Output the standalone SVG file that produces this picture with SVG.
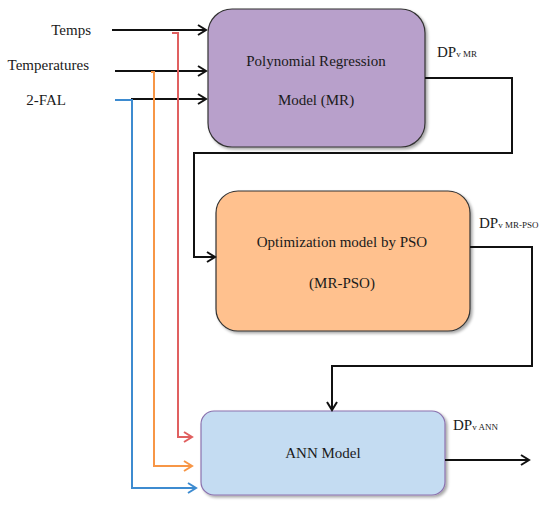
<svg xmlns="http://www.w3.org/2000/svg" width="550" height="507" viewBox="0 0 550 507">
<defs>
<style>
.lbl{text-anchor:middle}
.c{fill:none;stroke-width:2;stroke-linejoin:miter}
.k{stroke:#111}
.r{stroke:#E06060}
.o{stroke:#F79646}
.b{stroke:#3D8BD0}
</style>
<filter id="sh" x="-10%" y="-10%" width="125%" height="125%">
<feGaussianBlur in="SourceAlpha" stdDeviation="1.5"/>
<feOffset dx="1.5" dy="2" result="o"/>
<feComponentTransfer><feFuncA type="linear" slope="0.35"/></feComponentTransfer>
<feMerge><feMergeNode/><feMergeNode in="SourceGraphic"/></feMerge>
</filter>
<marker id="ak" markerWidth="12" markerHeight="12" refX="10" refY="6" orient="auto" markerUnits="userSpaceOnUse"><path d="M2,1 L10,6 L2,11" fill="none" stroke="#111" stroke-width="2"/></marker>
<marker id="ar" markerWidth="12" markerHeight="12" refX="10" refY="6" orient="auto" markerUnits="userSpaceOnUse"><path d="M2,1 L10,6 L2,11" fill="none" stroke="#E06060" stroke-width="2"/></marker>
<marker id="ao" markerWidth="12" markerHeight="12" refX="10" refY="6" orient="auto" markerUnits="userSpaceOnUse"><path d="M2,1 L10,6 L2,11" fill="none" stroke="#F79646" stroke-width="2"/></marker>
<marker id="ab" markerWidth="12" markerHeight="12" refX="10" refY="6" orient="auto" markerUnits="userSpaceOnUse"><path d="M2,1 L10,6 L2,11" fill="none" stroke="#3D8BD0" stroke-width="2"/></marker>
</defs>
<rect width="550" height="507" fill="#fff"/>

<g font-family="'Liberation Serif', 'DejaVu Serif', serif" font-size="15" fill="#1a1a1a">
<g id="input-labels">
<text x="91" y="35" text-anchor="end">Temps</text>
<text x="89" y="70" text-anchor="end">Temperatures</text>
<text x="66" y="105" text-anchor="end">2-FAL</text>
</g>

<g id="node-mr">
<rect x="208" y="9" width="217" height="138" rx="24" fill="#B8A0CB" stroke="#333" stroke-width="1.2" filter="url(#sh)"/>
<text class="lbl" x="316" y="66">Polynomial Regression</text>
<text class="lbl" x="316" y="105">Model  (MR)</text>
</g>

<g id="node-pso">
<rect x="216" y="191" width="254" height="140" rx="22" fill="#FFC18E" stroke="#333" stroke-width="1.2" filter="url(#sh)"/>
<text class="lbl" x="342" y="247">Optimization model by PSO</text>
<text class="lbl" x="342" y="288">(MR-PSO)</text>
</g>

<g id="node-ann">
<rect x="201" y="411" width="244" height="84" rx="13" fill="#C4DCF2" stroke="#8B72AE" stroke-width="1.2" filter="url(#sh)"/>
<text class="lbl" x="323" y="458">ANN Model</text>
</g>

<g id="output-labels">
<text x="437" y="57">DP<tspan font-size="9">v MR</tspan></text>
<text x="479" y="228">DP<tspan font-size="9">v MR-PSO</tspan></text>
<text x="453" y="430">DP<tspan font-size="9">v ANN</tspan></text>
</g>
</g>

<g id="connectors">
<path class="c k" d="M112,30 H206" marker-end="url(#ak)"/>
<path class="c k" d="M115,71 H206" marker-end="url(#ak)"/>
<path class="c k" d="M131,99 H206" marker-end="url(#ak)"/>
<path class="c b" d="M115,100 H132 V488 H196" marker-end="url(#ab)"/>
<path class="c o" d="M151,72 H154 V466 H192" marker-end="url(#ao)"/>
<path class="c r" d="M172,33 H178 V437 H192" marker-end="url(#ar)"/>
<path class="c k" d="M425,78 H512 V153 H194 V257 H215" marker-end="url(#ak)"/>
<path class="c k" d="M470,247 H532 V366 H332 V410" marker-end="url(#ak)"/>
<path class="c k" d="M445,460 H529" marker-end="url(#ak)"/>
</g>
</svg>
